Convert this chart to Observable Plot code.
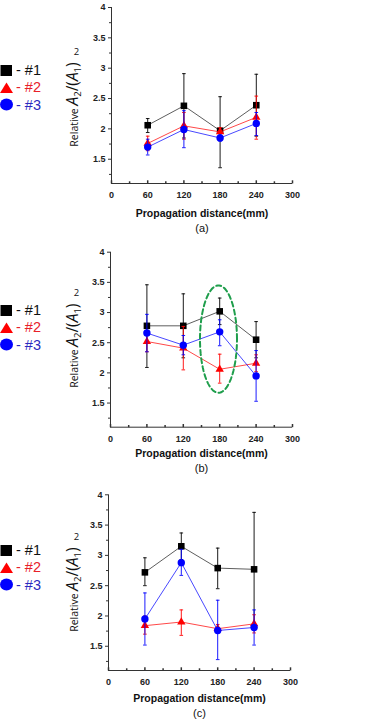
<!DOCTYPE html>
<html><head><meta charset="utf-8">
<script src="https://cdn.jsdelivr.net/npm/d3@7"></script>
<script src="https://cdn.jsdelivr.net/npm/@observablehq/plot@0.6"></script>
<style>
html,body{margin:0;padding:0;background:#fff;}
#root{width:389px;}
.panel{position:relative;width:389px;}
.panel svg{display:block;}
.legend{position:absolute;left:0;top:0;font-family:"Liberation Sans",Arial,sans-serif;font-size:14.5px;line-height:16px;}
.legend .row{position:absolute;left:0;height:16px;line-height:16px;display:flex;align-items:center;white-space:nowrap;}
.legend .row svg{margin-right:3px;flex:none;}
.legend .row span{display:inline-block;height:16px;line-height:16px;}
</style></head>
<body><div id="root"></div>
<script>
// ---- shared categories / ticks ----
const distances = [60, 120, 180, 240];
const xTicks = [0, 60, 120, 180, 240, 300];
const xMinorTicks = [30, 90, 150, 210, 270];
const yTicks = [1.5, 2, 2.5, 3, 3.5, 4];
const yMinorTicks = [1.25, 1.75, 2.25, 2.75, 3.25, 3.75];
const yDomain = [1.1, 4];
const xDomain = [0, 300];
const seriesNames = ["#1", "#2", "#3"];
const seriesColors = ["#000000", "#ff0000", "#0000ff"];
const legendTextColors = ["#111111", "#e8202a", "#2a2ac0"];
const seriesSymbols = ["square", "triangle", "circle"];
const xLabel = "Propagation distance(mm)";
const yLabel = "Relative A2/(A1)";
const yLabelSup = "2";

// ---- panel (a) ----
const a1 = [2.06, 2.38, 1.97, 2.39];
const a1Hi = [2.17, 2.91, 2.53, 2.90];
const a1Lo = [1.94, 1.85, 1.36, 1.88];
const a2 = [1.76, 2.05, 1.95, 2.19];
const a2Hi = [1.88, 2.27, 2.02, 2.54];
const a2Lo = [1.64, 1.83, 1.88, 1.83];
const a3 = [1.70, 1.99, 1.85, 2.09];
const a3Hi = [1.83, 2.30, 1.90, 2.27];
const a3Lo = [1.57, 1.69, 1.80, 1.89];

// ---- panel (b) ----
const b1 = [2.78, 2.78, 3.02, 2.55];
const b1Hi = [3.46, 3.31, 3.24, 2.85];
const b1Lo = [2.09, 2.25, 2.80, 2.25];
const b2 = [2.52, 2.41, 2.06, 2.16];
const b2Hi = [2.70, 2.77, 2.31, 2.30];
const b2Lo = [2.35, 2.05, 1.83, 2.02];
const b3 = [2.66, 2.46, 2.68, 1.95];
const b3Hi = [2.97, 2.62, 2.88, 2.37];
const b3Lo = [2.35, 2.30, 2.45, 1.53];
// highlight ellipse (panel b), data units
const ellipseCenter = [178, 2.56];
const ellipseRadii = [30.5, 0.89];

// ---- panel (c) ----
const c1 = [2.72, 3.15, 2.79, 2.77];
const c1Hi = [2.96, 3.37, 3.12, 3.71];
const c1Lo = [2.50, 2.93, 2.45, 1.83];
const c2 = [1.84, 1.90, 1.79, 1.87];
const c2Hi = [2.00, 2.10, 1.86, 2.02];
const c2Lo = [1.70, 1.68, 1.72, 1.72];
const c3 = [1.95, 2.88, 1.76, 1.81];
const c3Hi = [2.38, 3.10, 2.26, 2.10];
const c3Lo = [1.52, 2.67, 1.28, 1.52];

// ---- layout ----
const panels = [
  {caption: "(a)", height: 240, mt: 7, mb: 57, ml: 111, mr: 97, xlDy: 30, capDy: 45, ylDy: 9,
   series: [[a1, a1Lo, a1Hi], [a2, a2Lo, a2Hi], [a3, a3Lo, a3Hi]], ellipse: false},
  {caption: "(b)", height: 240, mt: 11.7, mb: 53.3, ml: 110, mr: 97, xlDy: 26, capDy: 41.6, ylDy: 6,
   series: [[b1, b1Lo, b1Hi], [b2, b2Lo, b2Hi], [b3, b3Lo, b3Hi]], ellipse: true},
  {caption: "(c)", height: 239, mt: 14.3, mb: 49, ml: 108, mr: 99, xlDy: 27.7, capDy: 42.5, ylDy: 7,
   series: [[c1, c1Lo, c1Hi], [c2, c2Lo, c2Hi], [c3, c3Lo, c3Hi]], ellipse: false}
];
const legendRowCenters = [70, 87.3, 104.6];
const yLabelX = 74;

const sansBold = "'Liberation Sans',Arial,sans-serif";
const axisColor = "#333";

const capSymbol = {draw(ctx, size) { const w = Math.sqrt(size / Math.PI); ctx.moveTo(-w, 0); ctx.lineTo(w, 0); }};
const upTick = {draw(ctx, size) { const l = Math.sqrt(size / Math.PI); ctx.moveTo(0, 0); ctx.lineTo(0, -l); }};

function legendMarker(i) {
  const c = seriesColors[i];
  let shape;
  if (i === 0) shape = `<rect x="0.5" y="1" width="11.5" height="11" fill="${c}"/>`;
  else if (i === 1) shape = `<path d="M6.5,1.5 L13,12 L0,12 Z" fill="${c}"/>`;
  else shape = `<ellipse cx="6.5" cy="6.5" rx="6.5" ry="6" fill="${c}"/>`;
  return `<svg width="13" height="13" viewBox="0 0 13 13">${shape}</svg>`;
}

const root = document.getElementById("root");
panels.forEach(p => {
  const marks = [];
  p.series.forEach(([vals, lo, hi], si) => {
    const rows = distances.map((d, i) => ({x: d, y: vals[i], lo: lo[i], hi: hi[i]}));
    const color = seriesColors[si];
    marks.push(Plot.line(rows, {x: "x", y: "y", stroke: color, strokeWidth: 0.8, strokeOpacity: si === 0 ? 0.8 : 0.9}));
    marks.push(Plot.ruleX(rows, {x: "x", y1: "lo", y2: "hi", stroke: color, strokeWidth: 0.9}));
    marks.push(Plot.dot(rows, {x: "x", y: "hi", symbol: capSymbol, r: 1.8, stroke: color, fill: "none", strokeWidth: 0.9}));
    marks.push(Plot.dot(rows, {x: "x", y: "lo", symbol: capSymbol, r: 1.8, stroke: color, fill: "none", strokeWidth: 0.9}));
    marks.push(Plot.dot(rows, {x: "x", y: "y", symbol: seriesSymbols[si], r: si === 1 ? 3.1 : 3.7, fill: color, stroke: "none"}));
  });
  if (p.ellipse) {
    const pts = d3.range(0, 361, 4).map(a => ({
      x: ellipseCenter[0] + ellipseRadii[0] * Math.cos(a * Math.PI / 180),
      y: ellipseCenter[1] + ellipseRadii[1] * Math.sin(a * Math.PI / 180)
    }));
    marks.push(Plot.line(pts, {x: "x", y: "y", stroke: "#1f9e4c", strokeWidth: 2, strokeDasharray: "5,3.2", curve: "linear"}));
  }
  // axes
  marks.push(Plot.ruleX([xDomain[0]], {stroke: axisColor, strokeWidth: 1}));
  marks.push(Plot.ruleY([yDomain[0]], {stroke: axisColor, strokeWidth: 1}));
  marks.push(Plot.axisY(yTicks, {tickSize: 3, tickPadding: 3, tickFormat: d => String(d), label: null,
    fontFamily: sansBold, fontSize: 9, fontWeight: "bold", fill: "#222", stroke: axisColor}));
  marks.push(Plot.axisY(yMinorTicks, {tickSize: 2, text: null, label: null, stroke: axisColor}));
  marks.push(Plot.axisX(xTicks, {tickSize: 0, tickPadding: 8, tickFormat: d => String(d), label: null,
    fontFamily: sansBold, fontSize: 9, fontWeight: "bold", fill: "#222"}));
  marks.push(Plot.dot(xTicks, {x: d => d, y: () => yDomain[0], symbol: upTick, r: 3.2, stroke: axisColor, fill: "none"}));
  marks.push(Plot.dot(xMinorTicks, {x: d => d, y: () => yDomain[0], symbol: upTick, r: 2.2, stroke: axisColor, fill: "none"}));
  // labels
  marks.push(Plot.text([xLabel], {frameAnchor: "bottom", dy: p.xlDy, lineAnchor: "middle", textAnchor: "middle",
    fontFamily: sansBold, fontSize: 10.5, fontWeight: "bold", fill: "#111"}));
  marks.push(Plot.text([p.caption], {frameAnchor: "bottom", dy: p.capDy, lineAnchor: "middle", textAnchor: "middle",
    fontFamily: sansBold, fontSize: 11, fill: "#111"}));
  marks.push(Plot.text([yLabel], {frameAnchor: "left", dx: yLabelX - p.ml, dy: p.ylDy, rotate: -90, lineAnchor: "middle", textAnchor: "middle",
    fontFamily: "'Open Sans',sans-serif", fontSize: 10.5, fill: "#111"}));
  marks.push(Plot.text([yLabelSup], {frameAnchor: "left", dx: yLabelX + 2 - p.ml, dy: p.ylDy - 53, lineAnchor: "middle", textAnchor: "middle",
    fontFamily: "'Open Sans',sans-serif", fontSize: 9.5, fill: "#111"}));

  const svg = Plot.plot({
    width: 389, height: p.height,
    marginTop: p.mt, marginBottom: p.mb, marginLeft: p.ml, marginRight: p.mr,
    x: {domain: xDomain, axis: null},
    y: {domain: yDomain, axis: null},
    style: {background: "#fff", fontFamily: sansBold},
    marks
  });

  // rebuild the rotated y label with italic letters and subscripts
  svg.querySelectorAll("text").forEach(t => {
    if (t.textContent === yLabel) {
      t.textContent = "";
      const parts = [
        {s: "Relative ", fs: 10.5},
        {s: "A", fs: 15.5, it: true},
        {s: "2", fs: 9.5, dy: 3.5},
        {s: "/(", fs: 15.5, dy: -3.5},
        {s: "A", fs: 15.5, it: true},
        {s: "1", fs: 9.5, dy: 3.5},
        {s: ")", fs: 15.5, dy: -3.5}
      ];
      parts.forEach(pt => {
        const ts = document.createElementNS("http://www.w3.org/2000/svg", "tspan");
        ts.textContent = pt.s;
        ts.setAttribute("font-size", pt.fs);
        if (pt.it) ts.setAttribute("font-style", "italic");
        if (pt.dy) ts.setAttribute("dy", pt.dy);
        t.appendChild(ts);
      });
    }
  });

  const div = document.createElement("div");
  div.className = "panel";
  div.style.height = p.height + "px";
  div.appendChild(svg);
  const leg = document.createElement("div");
  leg.className = "legend";
  seriesNames.forEach((n, i) => {
    const row = document.createElement("div");
    row.className = "row";
    row.style.top = (legendRowCenters[i] - 8) + "px";
    row.innerHTML = legendMarker(i) + `<span style="color:${legendTextColors[i]}">-&nbsp;${n}</span>`;
    leg.appendChild(row);
  });
  div.appendChild(leg);
  root.appendChild(div);
});
</script>
</body></html>
